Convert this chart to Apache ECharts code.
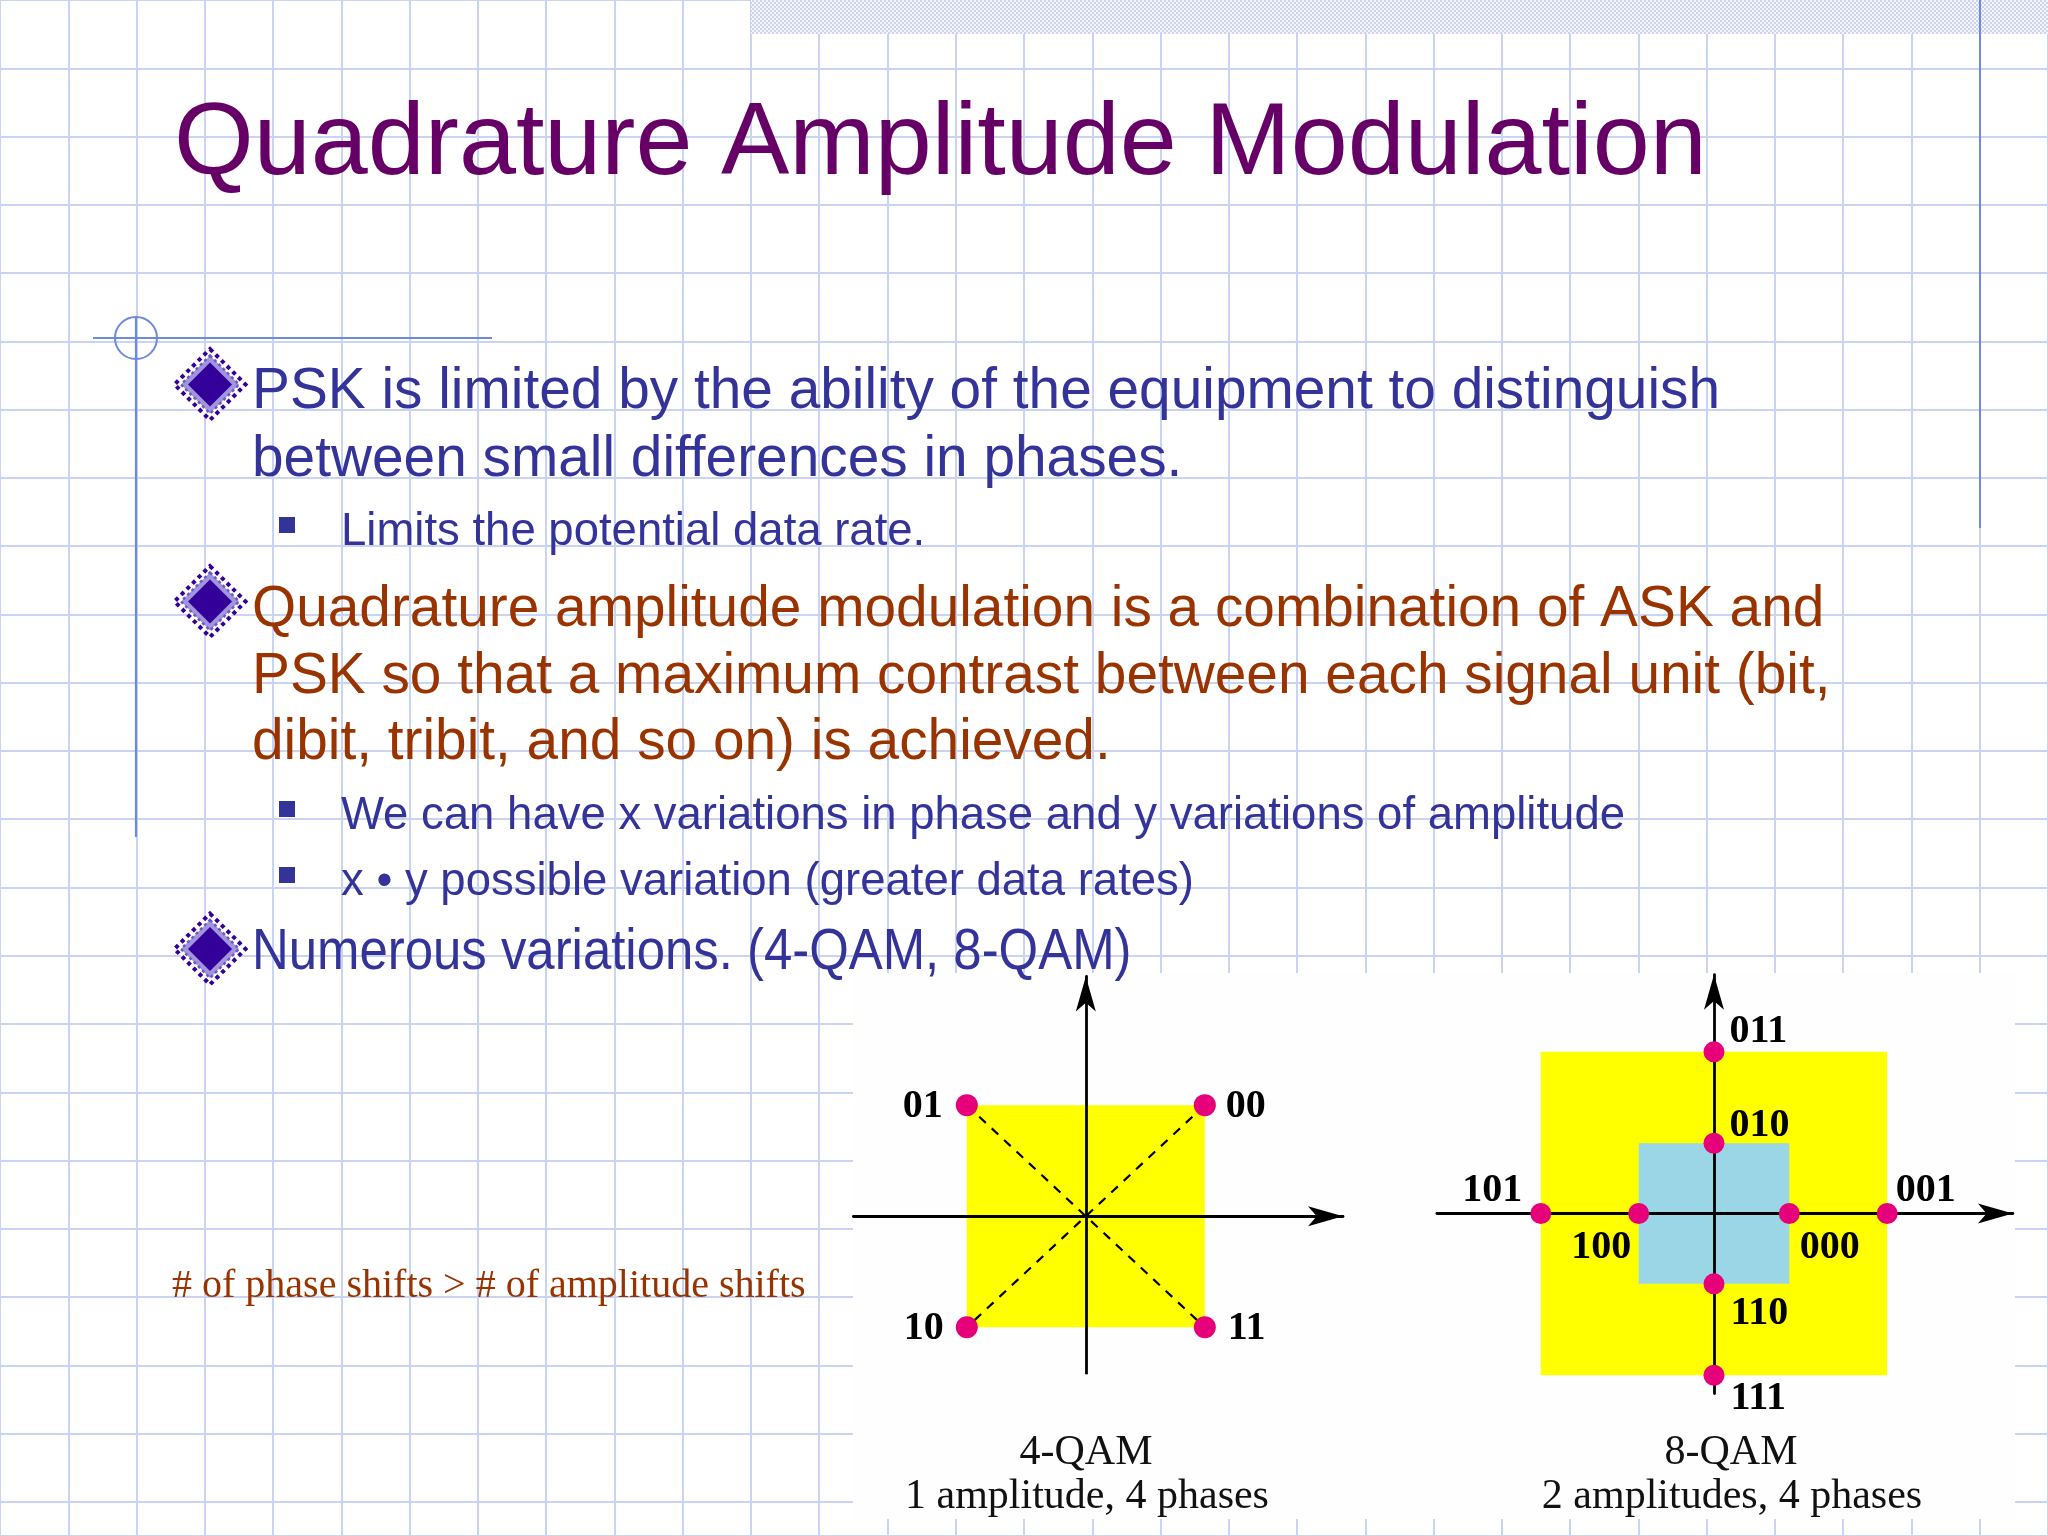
<!DOCTYPE html>
<html>
<head>
<meta charset="utf-8">
<script src="https://cdn.jsdelivr.net/npm/echarts@6/dist/echarts.min.js"></script>
<style>
html,body{margin:0;padding:0;background:#ffffff;}
#chart{width:2048px;height:1536px;}
</style>
</head>
<body>
<div id="chart"></div>
<script>
// ---------------- data ----------------
const titleText = 'Quadrature Amplitude Modulation';
const bullet1Lines = ['PSK is limited by the ability of the equipment to distinguish', 'between small differences in phases.'];
const bullet1Sub = ['Limits the potential data rate.'];
const bullet2Lines = ['Quadrature amplitude modulation is a combination of ASK and', 'PSK so that a maximum contrast between each signal unit (bit,', 'dibit, tribit, and so on) is achieved.'];
const bullet2Sub = ['We can have x variations in phase and y variations of amplitude', 'x \u2022 y possible variation (greater data rates)'];
const bullet3Lines = ['Numerous variations. (4-QAM, 8-QAM)'];
const noteText = '# of phase shifts > # of amplitude shifts';

// 4-QAM constellation (1 amplitude, 4 phases)
const qam4Codes = ['00', '01', '10', '11'];
const qam4I = [1, -1, -1, 1];
const qam4Q = [1, 1, -1, -1];
const qam4Amplitudes = [1];
const qam4Caption = ['4-QAM', '1 amplitude, 4 phases'];

// 8-QAM constellation (2 amplitudes, 4 phases)
const qam8Codes = ['000', '001', '010', '011', '100', '101', '110', '111'];
const qam8I = [1, 2.3, 0, 0, -1, -2.3, 0, 0];
const qam8Q = [0, 0, 1, 2.3, 0, 0, -1, -2.3];
const qam8Amplitudes = [2.3, 1];
const qam8Caption = ['8-QAM', '2 amplitudes, 4 phases'];

// ---------------- styles / layout ----------------
const SANS = '"Liberation Sans", Arial, sans-serif';
const SERIF = '"Liberation Serif", "Times New Roman", serif';
const BLUE = '#333399';
const BROWN = '#993300';
const DECO = '#6f88e0';
const PINK = '#e6007a';
const squareFills4 = ['#ffff00'];
const squareFills8 = ['#ffff00', '#9bd6e6'];
const labelPlace4 = [
  {position: 'right', offset: [10, 2]},
  {position: 'left', offset: [-13, 2]},
  {position: 'left', offset: [-12, 1]},
  {position: 'right', offset: [12, 1]}
];
const labelPlace8 = [
  {position: 'right', offset: [0, 34]},
  {position: 'right', offset: [-2, -23]},
  {position: 'right', offset: [5, -18]},
  {position: 'right', offset: [5, -20]},
  {position: 'left', offset: [3, 34]},
  {position: 'left', offset: [-8, -23]},
  {position: 'right', offset: [6, 30]},
  {position: 'right', offset: [6, 23]}
];

function midY(baseline, size, k) { return baseline - k * size; }

function hatchPattern() {
  const c = document.createElement('canvas');
  c.width = 4; c.height = 4;
  const g = c.getContext('2d');
  g.fillStyle = '#f5f6fc'; g.fillRect(0, 0, 4, 4);
  g.fillStyle = '#cdd3ef'; g.fillRect(0, 0, 2, 2); g.fillRect(2, 2, 2, 2);
  return {image: c, repeat: 'repeat'};
}

function diamond(cx, cy) {
  const pts = h => [[cx, cy - h], [cx + h, cy], [cx, cy + h], [cx - h, cy]];
  return [
    {type: 'polygon', shape: {points: pts(35.5)}, style: {fill: '#ffffff', stroke: '#330099', lineWidth: 4, lineDash: [4, 4]}, z: 6},
    {type: 'polygon', shape: {points: pts(29)}, style: {fill: '#a294dd', stroke: '#6a5cc4', lineWidth: 2.5, lineDash: [3, 3]}, z: 6, z2: 1},
    {type: 'polygon', shape: {points: pts(22)}, style: {fill: '#330099'}, z: 6, z2: 2}
  ];
}

function txt(text, x, y, size, color, family, opts, scaleX) {
  return {
    type: 'text', z: 7, x: x, y: y, scaleX: scaleX || 1,
    style: Object.assign({text: text, x: 0, y: 0, fill: color, fontSize: size, fontFamily: family, verticalAlign: 'middle', align: 'left'}, opts || {})
  };
}

const graphics = [];
// top hatch band
graphics.push({type: 'rect', shape: {x: 751, y: 0, width: 1297, height: 34}, style: {fill: hatchPattern()}, z: 1});
// white panel behind diagrams
graphics.push({type: 'rect', shape: {x: 853, y: 973, width: 1162, height: 546}, style: {fill: '#fefefe'}, z: 1});
// decorative lines
graphics.push({type: 'line', shape: {x1: 1980, y1: 0, x2: 1980, y2: 528}, style: {stroke: DECO, lineWidth: 2}, z: 2});
graphics.push({type: 'line', shape: {x1: 93, y1: 338, x2: 492, y2: 338}, style: {stroke: DECO, lineWidth: 2.2}, z: 2});
graphics.push({type: 'line', shape: {x1: 136, y1: 317, x2: 136, y2: 837}, style: {stroke: DECO, lineWidth: 2.2}, z: 2});
graphics.push({type: 'circle', shape: {cx: 136, cy: 338, r: 21}, style: {fill: 'none', stroke: DECO, lineWidth: 2}, z: 2});

// title
graphics.push(txt(titleText, 174, midY(176, 102.5, 0.30), 102.5, '#660066', SANS));

// bullets
const mainX = 252, subX = 341, mainSize = 56.8, subSize = 45.5;
const b1Base = [408.5, 476];
const b1SubBase = [544];
const b2Base = [626, 693, 759];
const b2SubBase = [828, 894];
const b3Base = [969];
const diamondCY = [384.5, 601.5, 949];

graphics.push.apply(graphics, diamond(210, diamondCY[0]));
graphics.push.apply(graphics, diamond(210, diamondCY[1]));
graphics.push.apply(graphics, diamond(210, diamondCY[2]));

bullet1Lines.forEach((t, i) => graphics.push(txt(t, mainX, midY(b1Base[i], mainSize, 0.28), mainSize, BLUE, SANS)));
bullet1Sub.forEach((t, i) => {
  graphics.push({type: 'rect', shape: {x: 279, y: b1SubBase[i] - 27, width: 16, height: 16}, style: {fill: BLUE}, z: 6});
  graphics.push(txt(t, subX, midY(b1SubBase[i], subSize, 0.26), subSize, BLUE, SANS));
});
bullet2Lines.forEach((t, i) => graphics.push(txt(t, mainX, midY(b2Base[i], mainSize, 0.28), mainSize, BROWN, SANS)));
bullet2Sub.forEach((t, i) => {
  graphics.push({type: 'rect', shape: {x: 279, y: b2SubBase[i] - 27, width: 16, height: 16}, style: {fill: BLUE}, z: 6});
  graphics.push(txt(t, subX, midY(b2SubBase[i], subSize, 0.26), subSize, BLUE, SANS));
});
bullet3Lines.forEach((t, i) => graphics.push(txt(t, mainX, midY(b3Base[i], mainSize, 0.28), mainSize, BLUE, SANS, null, 0.896)));

// note
graphics.push(txt(noteText, 172, midY(1296, 40, 0.24), 40, BROWN, SERIF));

// captions
graphics.push(txt(qam4Caption[0], 1086, midY(1463, 42, 0.24), 42, '#111111', SERIF, {align: 'center'}));
graphics.push(txt(qam4Caption[1], 1087, midY(1507, 42, 0.24), 42, '#111111', SERIF, {align: 'center'}));
graphics.push(txt(qam8Caption[0], 1731, midY(1463, 42, 0.24), 42, '#111111', SERIF, {align: 'center'}));
graphics.push(txt(qam8Caption[1], 1732, midY(1507, 42, 0.24), 42, '#111111', SERIF, {align: 'center'}));

// ---------------- axes ----------------
function diagramAxis(gridIndex, min, max) {
  return {
    gridIndex: gridIndex, type: 'value', min: min, max: max, z: 3,
    axisLine: {show: true, onZero: true, symbol: ['none', 'arrow'], symbolSize: [15, 35], lineStyle: {color: '#000000', width: 2.8}},
    axisTick: {show: false}, axisLabel: {show: false}, splitLine: {show: false}
  };
}

const bgAxisCommon = {
  type: 'value', z: 0,
  axisLine: {show: false}, axisTick: {show: false}, axisLabel: {show: false},
  splitLine: {show: true, lineStyle: {color: '#c9d3f4', width: 2}}
};

function squareSeries(xi, yi, amps, fills) {
  return {
    type: 'custom', xAxisIndex: xi, yAxisIndex: yi, z: 2, silent: true,
    data: amps.map(a => [a]),
    renderItem: function (params, api) {
      const a = api.value(0);
      const p0 = api.coord([-a, a]);
      const p1 = api.coord([a, -a]);
      return {type: 'rect', shape: {x: p0[0], y: p0[1], width: p1[0] - p0[0], height: p1[1] - p0[1]}, style: {fill: fills[params.dataIndex]}};
    }
  };
}

function diagSeries(i, j) {
  return {
    type: 'line', xAxisIndex: 1, yAxisIndex: 1, z: 4, silent: true, symbol: 'none',
    data: [[qam4I[i], qam4Q[i]], [qam4I[j], qam4Q[j]]],
    lineStyle: {color: '#000000', width: 2.2, type: [9, 8]}
  };
}

function pointSeries(xi, yi, codes, I, Q, place, size, fontSize) {
  return {
    type: 'scatter', xAxisIndex: xi, yAxisIndex: yi, z: 5, symbolSize: size, silent: true,
    itemStyle: {color: PINK, opacity: 1},
    label: {show: true, formatter: '{b}', distance: 0, fontFamily: SERIF, fontWeight: 'bold', fontSize: fontSize, color: '#000000'},
    data: codes.map((c, k) => ({name: c, value: [I[k], Q[k]], label: place[k]}))
  };
}

const option = {
  animation: false,
  backgroundColor: '#ffffff',
  grid: [
    {left: 0, top: 0, width: 2048, height: 1536},
    {left: 853.4, top: 976.5, width: 489.6, height: 396.7},
    {left: 1436.9, top: 974.7, width: 576.0, height: 418.8}
  ],
  xAxis: [
    Object.assign({gridIndex: 0, min: 0, max: 30, interval: 1}, bgAxisCommon),
    diagramAxis(1, -1.953, 2.161),
    diagramAxis(2, -3.68, 3.97)
  ],
  yAxis: [
    Object.assign({gridIndex: 0, min: 0, max: 22.5, interval: 1, inverse: true}, bgAxisCommon),
    diagramAxis(1, -1.413, 2.158),
    diagramAxis(2, -2.56, 3.397)
  ],
  graphic: {elements: graphics},
  series: [
    squareSeries(1, 1, qam4Amplitudes, squareFills4),
    diagSeries(0, 2),
    diagSeries(1, 3),
    pointSeries(1, 1, qam4Codes, qam4I, qam4Q, labelPlace4, 22, 40),
    squareSeries(2, 2, qam8Amplitudes, squareFills8),
    pointSeries(2, 2, qam8Codes, qam8I, qam8Q, labelPlace8, 21, 40)
  ]
};

const chart = echarts.init(document.getElementById('chart'), null, {renderer: 'canvas'});
chart.setOption(option);
</script>
</body>
</html>
